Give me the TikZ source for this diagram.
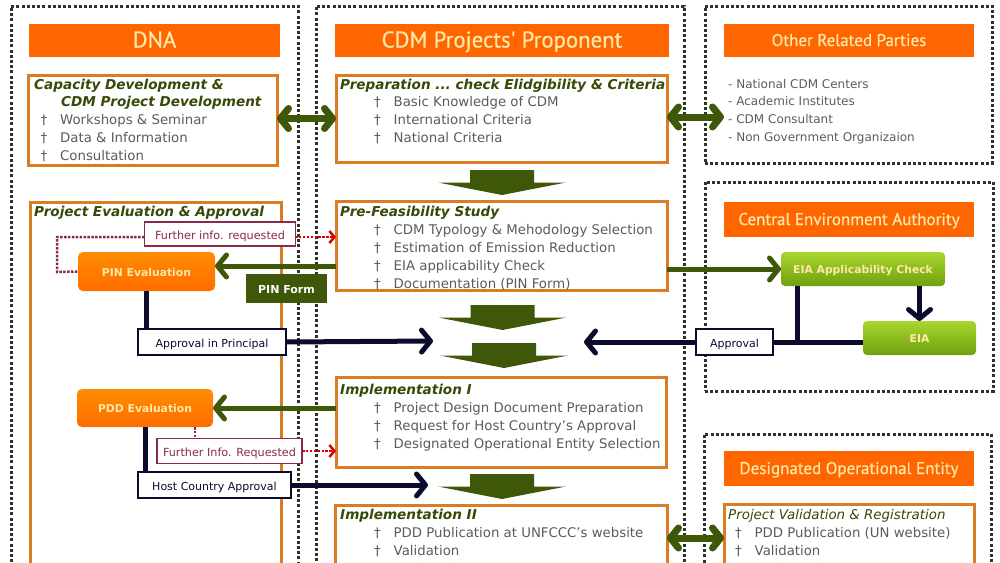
\documentclass[tikz,border=0pt]{standalone}
\usepackage{fontspec}
\setmainfont{DejaVu Sans}
\newfontfamily\headfont[FakeBold=0.6]{PT Sans}
\usetikzlibrary{arrows.meta,calc}
\definecolor{headorange}{HTML}{FF6600}
\definecolor{boxorange}{HTML}{DC7C22}
\definecolor{headtext}{HTML}{FFE8A8}
\definecolor{leaf}{HTML}{3F5709}
\definecolor{navy}{HTML}{0B0B2E}
\definecolor{dotline}{HTML}{2E3326}
\definecolor{maroon}{HTML}{8A2A4A}
\definecolor{bodygray}{HTML}{5C5C54}
\definecolor{limetop}{HTML}{A9D62E}
\definecolor{limebottom}{HTML}{6FA00F}
\tikzset{
  panel/.style={draw=dotline,line width=3pt,dash pattern=on 3pt off 2.2pt,inner sep=0pt,outer sep=0pt},
  head/.style={fill=headorange,text=headtext,inner sep=0pt,outer sep=0pt,text height=13pt,text depth=2pt,font=\headfont\fontsize{17}{18}\selectfont},
  bighead/.style={head,text height=16pt,text depth=2pt,font=\headfont\fontsize{22.8}{26}\selectfont},
  stage/.style={draw=boxorange,fill=white,line width=3pt,inner sep=0pt,outer sep=0pt},
  title/.style={anchor=west,inner sep=0pt,text height=11pt,text depth=1pt,text=leaf!85!black,font=\fontsize{13.6}{16}\selectfont\bfseries\itshape},
  itemtext/.style={anchor=west,inner sep=0pt,text height=11pt,text depth=1pt,text=bodygray,font=\fontsize{13.3}{15}\selectfont},
  partytext/.style={anchor=west,inner sep=0pt,text height=10pt,text depth=1pt,text=bodygray,font=\fontsize{12}{14}\selectfont},
  orangebtn/.style={rounded corners=5pt,top color=orange!90!yellow,bottom color=orange!85!red,text=headtext,inner sep=0pt,outer sep=0pt,text height=10pt,text depth=1pt,font=\fontsize{10.8}{14}\selectfont\bfseries},
  greenbtn/.style={rounded corners=4pt,top color=limetop,bottom color=limebottom,text=headtext,inner sep=0pt,outer sep=0pt,text height=10pt,text depth=1pt,font=\fontsize{10.8}{14}\selectfont\bfseries},
  note/.style={draw=maroon,fill=white,line width=1.4pt,text=maroon,inner sep=0pt,outer sep=0pt,text height=11pt,text depth=1pt,font=\fontsize{11.2}{13}\selectfont},
  okbox/.style={draw=navy,fill=white,line width=1.4pt,text=navy,inner sep=0pt,outer sep=0pt,text height=11pt,text depth=1pt,font=\fontsize{11}{13}\selectfont},
  leafline/.style={draw=leaf,line width=5pt,-{Straight Barb[length=9pt,width=22pt,round]}},
  bothway/.style={draw=leaf,line width=7pt,{Straight Barb[length=8pt,width=20pt,round]}-{Straight Barb[length=8pt,width=20pt,round]}},
  navyline/.style={draw=navy,line width=5pt},
  navyarrow/.style={navyline,-{Straight Barb[length=9pt,width=22pt,round]}},
  morenote/.style={draw=maroon,line width=2.5pt,dash pattern=on 2.5pt off 1.4pt},
  morearrow/.style={draw=red!85!black,line width=2.5pt,dash pattern=on 2.5pt off 1.4pt,-{Straight Barb[length=5pt,width=12pt]}},
  pics/blockdown/.style={code={
    \fill[leaf] (-32,0) -- (32,0) -- (32,12.5) -- (64,12.5) -- (0,25) -- (-64,12.5) -- (-32,12.5) -- cycle;}}
}
\newcommand{\bitem}{\makebox[19.5pt][l]{†}}
\begin{document}
\begin{tikzpicture}[x=1pt,y=-1pt]
  \useasboundingbox (0,0) rectangle (1000,562);
  \clip (0,0) rectangle (1000,562);
  % dotted panels
  \node (dnapanel) [panel,minimum width=287pt,minimum height=620pt] at (154.5,316) {};
  \node (cdmpanel) [panel,minimum width=368pt,minimum height=620pt] at (500,316) {};
  \node (otherpanel) [panel,minimum width=287pt,minimum height=157pt] at (848.5,84.5) {};
  \node (ceapanel) [panel,minimum width=288pt,minimum height=209pt] at (849,286.5) {};
  \node (doepanel) [panel,minimum width=287pt,minimum height=200pt] at (847.5,534) {};
  % headers
  \node (dnahead) [bighead,minimum width=251pt,minimum height=33pt] at (154.5,40.5) {DNA};
  \node (cdmhead) [bighead,minimum width=334pt,minimum height=33pt] at (502,40.5) {CDM Projects' Proponent};
  \node (otherhead) [head,minimum width=250pt,minimum height=33pt] at (849,40.5) {Other Related Parties};
  \node (ceahead) [head,minimum width=250pt,minimum height=35pt] at (849,219.5) {Central Environment Authority};
  \node (doehead) [head,minimum width=250pt,minimum height=35pt] at (849,468.5) {Designated Operational Entity};
  % stage boxes
  \node (capbox) [stage,minimum width=249pt,minimum height=90pt] at (152.5,120) {};
  \node (prepbox) [stage,minimum width=331pt,minimum height=87pt] at (501.5,118.5) {};
  \node (evalbox) [stage,minimum width=251pt,minimum height=420pt] at (155.5,412) {};
  \node (prefeas) [stage,minimum width=331pt,minimum height=89pt] at (501.5,245.5) {};
  \node (impli) [stage,minimum width=330pt,minimum height=90pt] at (501,422) {};
  \node (implii) [stage,minimum width=332pt,minimum height=66pt] at (501,538) {};
  \node (doebox) [stage,minimum width=250pt,minimum height=68pt] at (849,538) {};
  % box texts
  \node (captitle) [title] at (34,84) {Capacity Development \&};
  \node (captitleb) [title] at (61,101) {CDM Project Development};
  \node (capa) [itemtext] at (40.5,119) {\bitem Workshops \& Seminar};
  \node (capb) [itemtext] at (40.5,137) {\bitem Data \& Information};
  \node (capc) [itemtext] at (40.5,155) {\bitem Consultation};
  \node (preptitle) [title] at (340,84) {Preparation ...\ check Elidgibility \& Criteria};
  \node (prepa) [itemtext] at (374,101) {\bitem Basic Knowledge of CDM};
  \node (prepb) [itemtext] at (374,119) {\bitem International Criteria};
  \node (prepc) [itemtext] at (374,137) {\bitem National Criteria};
  \node (evaltitle) [title] at (34,211) {Project Evaluation \& Approval};
  \node (feastitle) [title] at (340,211) {Pre-Feasibility Study};
  \node (feasa) [itemtext] at (374,229) {\bitem CDM Typology \& Mehodology Selection};
  \node (feasb) [itemtext] at (374,247) {\bitem Estimation of Emission Reduction};
  \node (feasc) [itemtext] at (374,265) {\bitem EIA applicability Check};
  \node (feasd) [itemtext] at (374,283) {\bitem Documentation (PIN Form)};
  \node (impititle) [title] at (340,389) {Implementation I};
  \node (impia) [itemtext] at (374,407) {\bitem Project Design Document Preparation};
  \node (impib) [itemtext] at (374,425) {\bitem Request for Host Country's Approval};
  \node (impic) [itemtext] at (374,443) {\bitem Designated Operational Entity Selection};
  \node (impiititle) [title] at (340,514) {Implementation II};
  \node (impiia) [itemtext] at (374,532) {\bitem PDD Publication at UNFCCC's website};
  \node (impiib) [itemtext] at (374,550) {\bitem Validation};
  \node (impiic) [itemtext] at (374,568) {\bitem Registration};
  \node (doetitle) [title,font=\fontsize{13.4}{16}\selectfont\itshape] at (728,514) {Project Validation \& Registration};
  \node (doea) [itemtext] at (735,532) {\bitem PDD Publication (UN website)};
  \node (doeb) [itemtext] at (735,550) {\bitem Validation};
  \node (doec) [itemtext] at (735,568) {\bitem Registration};
  \node (partya) [partytext] at (728,84) {- National CDM Centers};
  \node (partyb) [partytext] at (728,101) {- Academic Institutes};
  \node (partyc) [partytext] at (728,119) {- CDM Consultant};
  \node (partyd) [partytext] at (728,137) {- Non Government Organizaion};
  % block arrows
  \pic (downa) at (502,170) {blockdown};
  \pic (downb) at (502.5,305) {blockdown};
  \pic (downc) at (504,343) {blockdown};
  \pic (downd) at (502,474) {blockdown};
  % evaluation nodes
  \node (pineval) [orangebtn,minimum width=137pt,minimum height=39pt] at (146.5,271.5) {PIN Evaluation};
  \node (pddeval) [orangebtn,minimum width=136pt,minimum height=38pt] at (145,408) {PDD Evaluation};
  \node (eiacheck) [greenbtn,minimum width=164pt,minimum height=34pt] at (863,269) {EIA Applicability Check};
  \node (eia) [greenbtn,minimum width=113pt,minimum height=34pt] at (919.5,338) {EIA};
  % free ends
  \coordinate (otherend) at (724,117);
  \coordinate (pinline) at (336,266);
  \coordinate (morea) at (295,237);
  \coordinate (aipend) at (433,341);
  \coordinate (apprend) at (584,342);
  \coordinate (hostend) at (428,485);
  % connectors
  \draw [bothway] (prepbox.west -| capbox.east) -- (prepbox.west);
  \draw [bothway] (prepbox.east |- otherend) -- (otherend);
  \draw [bothway] (implii.east) -- (doebox.west);
  \draw [leafline] (pinline) -- (pinline -| pineval.east);
  \draw [leafline] (prefeas.east |- eiacheck.west) -- (eiacheck.west);
  \draw [leafline] (impli.west |- pddeval.east) -- (pddeval.east);
  \draw [morearrow] (morea) -- (morea -| prefeas.west);
  \node (morepin) [note,minimum width=151pt,minimum height=24pt] at (220,234) {Further info. requested};
  \draw [morenote] (morepin.west |- morea) -- (57,237) -- (57,272) -- (pineval.west);
  \node (pinform) [fill=leaf,text=white,inner sep=0pt,minimum width=81pt,minimum height=29pt,text height=10pt,text depth=1pt,font=\fontsize{11}{15}\selectfont\bfseries] at (286.5,288.5) {PIN Form};
  \node (morepdd) [note,minimum width=145pt,minimum height=25pt] at (229.5,451) {Further Info. Requested};
  \draw [morenote] (pddeval.south -| 195,0) -- (morepdd.north -| 195,0);
  \draw [morearrow] (morepdd.east) -- (morepdd.east -| impli.west);
  \node (aip) [okbox,minimum width=148pt,minimum height=26pt] at (212,342) {Approval in Principal};
  \node (host) [okbox,minimum width=153pt,minimum height=26pt] at (214.5,485) {Host Country Approval};
  \node (appr) [okbox,minimum width=77pt,minimum height=26pt] at (734.5,342) {Approval};
  \draw [navyline] (pineval.south) -- (pineval.south |- aip.north);
  \draw [navyline] (pddeval.south) -- (pddeval.south |- host.north);
  \draw [navyarrow] (aip.east) -- (aipend);
  \draw [navyarrow] (host.east) -- (hostend);
  \draw [navyarrow] (appr.west) -- (apprend);
  \draw [navyline] (eia.west |- appr.east) -- (appr.east);
  \draw [navyline] (eiacheck.south -| 797,0) -- (797,342);
  \draw [navyarrow] (eia.north |- eiacheck.south) -- (eia.north);
\end{tikzpicture}
\end{document}
